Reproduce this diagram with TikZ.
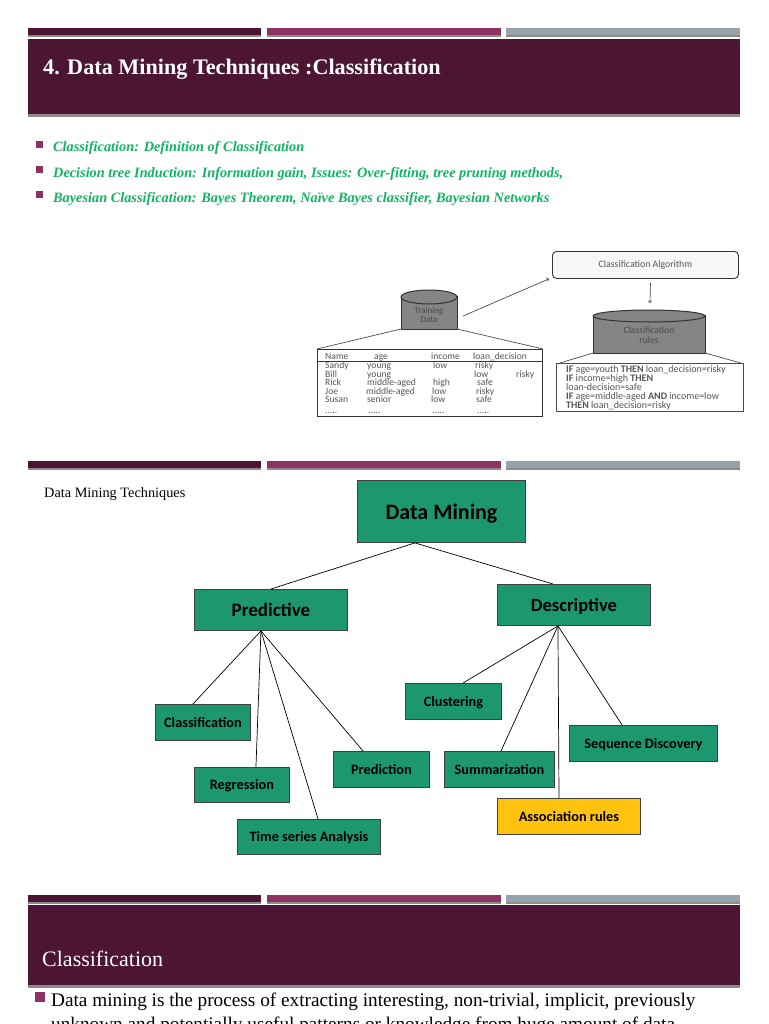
\documentclass[tikz,border=0pt]{standalone}
\usepackage{fontspec}
\setmainfont{Liberation Serif}
\newfontfamily\calfam{Carlito}
\usetikzlibrary{calc,shapes.geometric}
\definecolor{plum}{HTML}{4C1534}
\definecolor{rose}{HTML}{8E3263}
\definecolor{slate}{HTML}{98A2AC}
\definecolor{teal1}{HTML}{1D9770}
\definecolor{gold}{HTML}{FFC20E}
\definecolor{lime}{HTML}{10B463}
\definecolor{cyl}{HTML}{858585}
\definecolor{fade}{HTML}{555555}
\newcommand{\fs}[1]{\fontsize{#1}{#1}\selectfont}
\tikzset{
 x=1pt,y=-1pt,
 boxg/.style={draw=black!75,line width=0.7pt,fill=teal1,text=black,font=\calfam\bfseries\fs{14.3},inner sep=0pt,anchor=north west,text depth=0pt},
 link/.style={draw=black,line width=0.7pt},
 bar/.style={fill=#1,draw=none},
 shad/.style={fill=black!45,draw=none},
 bul/.style={fill=rose,draw=none},
 lab/.style={anchor=base west,inner sep=0pt},
 grn/.style={lab,text=lime,font=\fs{14.3}\bfseries\itshape},
 tb/.style={anchor=base west,inner sep=0pt,text=fade,font=\calfam\fs{9.6}},
 cylb/.style={draw=black!80,line width=1pt,fill=cyl},
 thin1/.style={draw=black!70,line width=0.7pt},
}
\newcommand{\mkbars}[1]{%
 \fill[shad] (28,#1+1) rectangle (261,#1+9);
 \fill[shad] (267,#1+1) rectangle (501,#1+9);
 \fill[shad] (506,#1+1) rectangle (740,#1+9);
 \fill[bar=plum] (28,#1) rectangle (261,#1+7);
 \fill[bar=rose] (267,#1) rectangle (501,#1+7);
 \fill[bar=slate] (506,#1) rectangle (740,#1+7);
}
\newcommand{\mkbox}[5]{\node[boxg,fill=#5,minimum width=#3pt-#1pt-0.8pt,minimum height=#4pt-#2pt-0.8pt] at (#1,#2)}
\begin{document}
\begin{tikzpicture}
\useasboundingbox (0,0) rectangle (768,1024);
\clip (0,0) rectangle (768,1024);
\fill[white] (0,0) rectangle (768,1024);
% first slide
\mkbars{28}
\fill[shad] (28,39) rectangle (740,117);
\fill[plum] (28,39) rectangle (740,114);
\node[lab,text=white,font=\fs{22.2}\bfseries] (t1) at (43,75) {4. Data Mining Techniques :Classification};
\fill[bul] (36,141) rectangle (43,148);
\fill[bul] (36,166) rectangle (43,173);
\fill[bul] (36,191) rectangle (43,198);
\node[grn] (b1) at (53,152) {Classification: Definition of Classification};
\node[grn] (b2) at (53,178) {Decision tree Induction: Information gain, Issues: Over-fitting, tree pruning methods,};
\node[grn] (b3) at (53,203) {Bayesian Classification: Bayes Theorem, Naïve Bayes classifier, Bayesian Networks};
% training data cylinder
\fill[cylb] (401,296) -- (401,329) -- (457,329) -- (457,296) -- cycle;
\draw[cylb] (429,297) ellipse [x radius=28,y radius=7];
\coordinate (tdl) at (401,329);
\coordinate (tdr) at (457,329);
\coordinate (tda) at (463,316);
\node[anchor=center,text=black!70,font=\calfam\fs{9},align=center,inner sep=0pt] (td) at (429,315) {Training\\Data};
\node[draw=black!80,line width=1pt,fill=white,minimum width=225pt,minimum height=67pt,inner sep=0pt,anchor=north west] (tbl) at (317,349) {};
\draw[draw=black!80,line width=0.8pt] (tbl.west |- 0,361) -- (tbl.east |- 0,361);
\draw[thin1] (tdl) -- (tbl.north west);
\draw[thin1] (tdr) -- (tbl.north east);
\foreach \t/\px/\py in {Name/325/359,age/374/359,income/431/359,loan\_decision/473/359,
 Sandy/325/368,young/367/368,low/433/368,risky/475/368,
 Bill/325/377,young/367/377,low/474/377,risky/516/377,
 Rick/325/385,middle-aged/367/385,high/433/385,safe/477/385,
 Joe/325/394,middle-aged/366/394,low/432/394,risky/476/394,
 Susan/325/402,senior/367/402,low/431/402,safe/476/402}
 \node[tb] at (\px,\py) {\t};
\node[tb] at (325,413) {.....};
\node[tb] at (368,413) {.....};
\node[tb] at (432,413) {.....};
\node[tb] at (477,413) {.....};
% classification algorithm
\node[draw=black!80,line width=0.9pt,rounded corners=4pt,fill=black!3,minimum width=186pt,minimum height=27pt,inner sep=0pt,anchor=north west,text=fade,font=\calfam\fs{9.8}] (alg) at (552,251) {Classification Algorithm};
\draw[->,thin1] (tda) -- ($(alg.south west)+(-3,0)$);
\fill[cylb] (593,315) -- (593,353) -- (705,353) -- (705,315) -- cycle;
\draw[cylb] (649,316) ellipse [x radius=56,y radius=6];
\node[anchor=center,text=black!70,font=\calfam\fs{9.6},align=center,inner sep=0pt] (cr) at (649,335) {Classification\\rules};
\coordinate (crt) at (650,303);
\draw[->,thin1] ($(alg.south)+(5,4)$) -- (crt);
\node[draw=black!70,line width=0.8pt,fill=white,minimum width=187pt,minimum height=48pt,inner sep=0pt,anchor=north west] (rul) at (556,363) {};
\coordinate (crl) at (593,353);
\coordinate (crr) at (705,353);
\draw[thin1] (crl) -- ($(rul.north west)+(4,0)$);
\draw[thin1] (crr) -- ($(rul.north east)+(-3,0)$);
\node[tb,font=\calfam\fs{10}] at (566,372) {\textbf{IF} age=youth \textbf{THEN} loan\_decision=risky};
\node[tb,font=\calfam\fs{10}] at (566,381) {\textbf{IF} income=high \textbf{THEN}};
\node[tb,font=\calfam\fs{10}] at (566,390) {loan-decision=safe};
\node[tb,font=\calfam\fs{10}] at (566,399) {\textbf{IF} age=middle-aged \textbf{AND} income=low};
\node[tb,font=\calfam\fs{10}] at (566,408) {\textbf{THEN} loan\_decision=risky};
% second slide
\mkbars{461}
\node[lab,font=\fs{14.3}] (dmt) at (44,497) {Data Mining Techniques};
\mkbox{357}{480}{526}{543}{teal1} (dm) {\fs{22}Data Mining};
\mkbox{194}{589}{348}{631}{teal1} (pre) {\fs{19}Predictive};
\mkbox{497}{584}{651}{626}{teal1} (des) {\fs{18.6}Descriptive};
\mkbox{155}{704}{251}{741}{teal1} (cla) {Classification};
\mkbox{194}{767}{290}{803}{teal1} (reg) {Regression};
\mkbox{237}{819}{381}{855}{teal1} (tim) {Time series Analysis};
\mkbox{333}{751}{430}{788}{teal1} (prd) {Prediction};
\mkbox{405}{683}{502}{720}{teal1} (clu) {Clustering};
\mkbox{444}{751}{555}{788}{teal1} (sum) {Summarization};
\mkbox{569}{725}{718}{762}{teal1} (seq) {Sequence Discovery};
\mkbox{497}{798}{641}{835}{gold} (ass) {Association rules};
\coordinate (dmb) at ($(dm.south west)!0.343!(dm.south east)$);
\coordinate (prb) at ($(pre.south west)!0.435!(pre.south east)$);
\coordinate (deb) at ($(des.south west)!0.396!(des.south east)$);
\draw[link] (dmb) -- (pre.north);
\draw[link] (dmb) -- ($(des.north west)!0.364!(des.north east)$);
\draw[link] (prb) -- ($(cla.north west)!0.396!(cla.north east)$);
\draw[link] (prb) -- ($(reg.north west)!0.646!(reg.north east)$);
\draw[link] (prb) -- ($(tim.north west)!0.563!(tim.north east)$);
\draw[link] (prb) -- ($(prd.north west)!0.31!(prd.north east)$);
\draw[link] (deb) -- ($(clu.north west)!0.6!(clu.north east)$);
\draw[link] (deb) -- ($(sum.north west)!0.514!(sum.north east)$);
\draw[link] (deb) -- ($(ass.north west)!0.431!(ass.north east)$);
\draw[link] (deb) -- ($(seq.north west)!0.356!(seq.north east)$);
% third slide
\mkbars{895}
\fill[shad] (28,905) rectangle (740,988);
\fill[plum] (28,905) rectangle (740,985);
\node[lab,text=white,font=\fs{22}] (t3) at (42,966) {Classification};
\fill[bul] (35,992) rectangle (45,1002);
\node[lab,font=\fs{19.25}] (p1) at (51,1006) {Data mining is the process of extracting interesting, non-trivial, implicit, previously};
\node[lab,font=\fs{19.25}] (p2) at (51,1030) {unknown and potentially useful patterns or knowledge from huge amount of data.};
\end{tikzpicture}
\end{document}
